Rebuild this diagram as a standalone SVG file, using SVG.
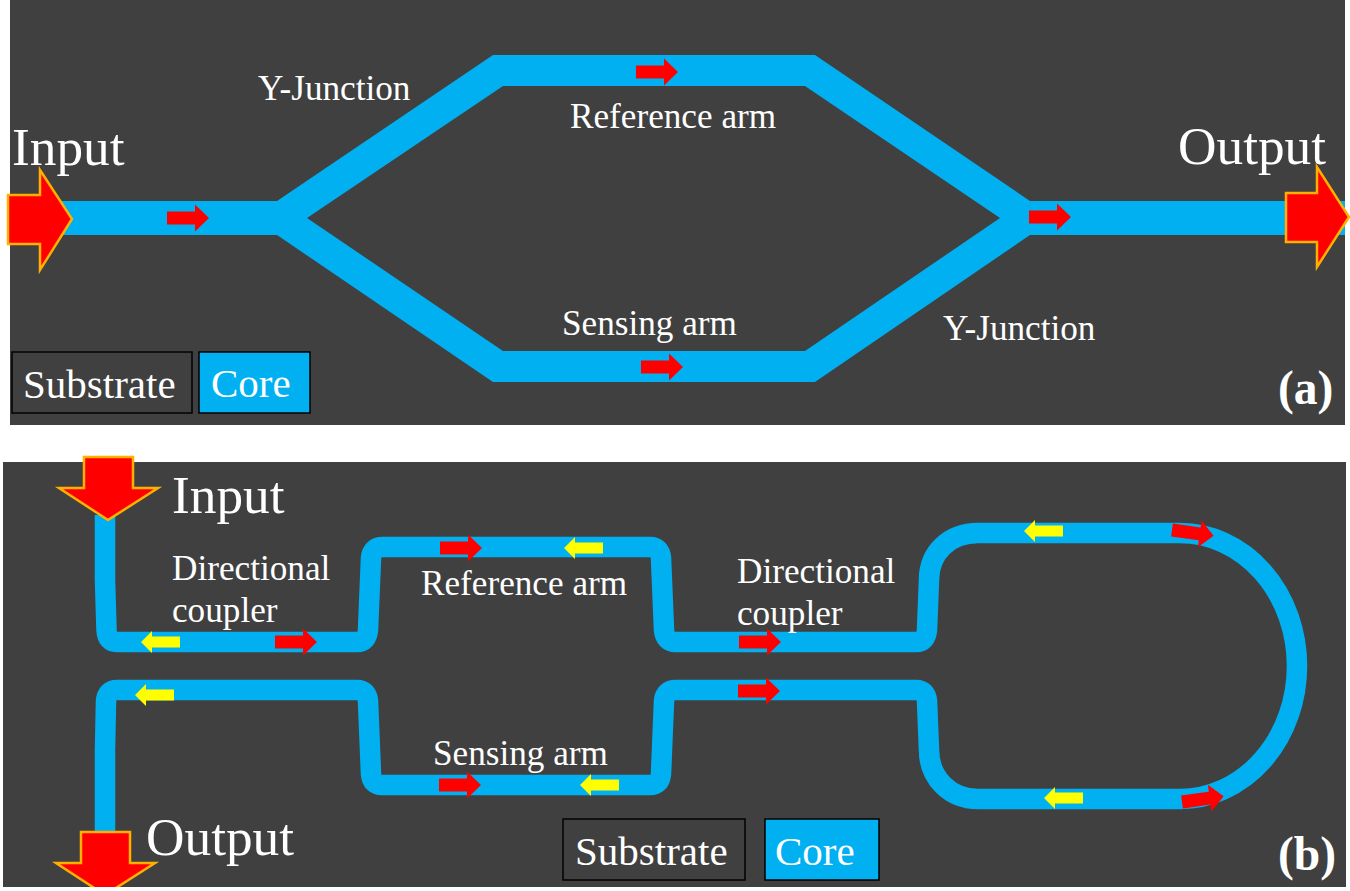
<svg xmlns="http://www.w3.org/2000/svg" xmlns:xlink="http://www.w3.org/1999/xlink" width="1350" height="891" viewBox="0 0 1350 891">
<style>
.panel{fill:#404040}
.core{fill:#00b0f0}
.wg{fill:none;stroke:#00b0f0;stroke-width:20.5;stroke-linejoin:round}
.big{fill:#ff0000;stroke:#ffb000;stroke-width:2.5}
.r{fill:#ff0000}
.y{fill:#ffff00}
.t{font-family:"Liberation Serif","Times New Roman",serif;fill:#fff}
.lg{font-size:53.3px}
.md{font-size:35.2px}
.lb{font-size:41px}
.pl{font-size:47.5px;font-weight:bold}
.box{stroke:#000;stroke-width:1.5}
</style>
<defs>
<polygon id="ra" points="0,-6.5 28,-6.5 28,-13.5 42,0 28,13.5 28,6.5 0,6.5"/>
<polygon id="ya" points="0,-5.5 -28,-5.5 -28,-11 -39,0 -28,11 -28,5.5 0,5.5"/>
<clipPath id="pb"><rect x="0" y="440" width="1350" height="447"/></clipPath>
</defs>
<rect width="1350" height="891" fill="#fff"/>
<rect id="panel-a" class="panel" x="10" y="0" width="1335" height="425"/>
<rect id="panel-b" class="panel" x="3" y="462" width="1343" height="425"/>
<g id="connectors">
<path id="wg-a" class="core" fill-rule="evenodd" d="M60,201H277L493,55H815L1030,201H1345V235H1030L815,382H493L277,235H60ZM307,218L503,86H805L1000,218L805,351H503Z"/>
<path id="wg-b-top" class="wg" d="M105,515V580L106.5,630Q107,642 117,642H357Q367,642 368,630L371,558Q372,547 383,547H650Q660,547 661,558L664,630Q665,642 676,642H916Q926,642 927,630L929,580C929,552 950,533 978,533H1180A117,133 0 0 1 1297,666A117,133 0 0 1 1180,799H978C950,799 929,778 929,750L927,701Q926,690 916,690H676Q665,690 664,701L661,774Q660,785 650,785H382Q372,785 371,774L368,701Q367,690 357,690H117Q107,690 106,701L105,750V835"/>
</g>
<g id="input-a"><polygon class="big" points="8,195 40,195 40,170 72,219 40,270 40,244 8,244"/><text class="t lg" x="12" y="165">Input</text></g>
<g id="output-a"><polygon class="big" points="1286,193 1317,193 1317,167 1349,217 1317,267 1317,242 1286,242"/><text class="t lg" x="1178" y="164">Output</text></g>
<g id="labels-a">
<text class="t md" x="258" y="100">Y-Junction</text>
<text class="t md" x="570" y="128">Reference arm</text>
<text class="t md" x="562" y="335">Sensing arm</text>
<text class="t md" x="943" y="340">Y-Junction</text>
<text class="t pl" x="1278" y="404">(a)</text>
</g>
<g id="legend-a">
<rect class="box" x="12" y="352" width="180" height="61" fill="#404040"/><text class="t lb" x="23" y="398">Substrate</text>
<rect class="box core" x="199" y="352" width="111" height="61"/><text class="t lb" x="211" y="397">Core</text>
</g>
<g id="arrows-a">
<use xlink:href="#ra" href="#ra" class="r" transform="translate(167,218)"/>
<use xlink:href="#ra" href="#ra" class="r" transform="translate(636,72)"/>
<use xlink:href="#ra" href="#ra" class="r" transform="translate(641,367)"/>
<use xlink:href="#ra" href="#ra" class="r" transform="translate(1029,217)"/>
</g>
<g id="input-b"><polygon class="big" points="84,457 133,457 133,488 158,488 108,520 59,488 84,488"/><text class="t lg" x="172" y="513">Input</text></g>
<g id="output-b" clip-path="url(#pb)"><polygon class="big" points="81,832 130,832 130,863 155,863 105,895 56,863 81,863"/><text class="t lg" x="146" y="855">Output</text></g>
<g id="labels-b">
<text class="t md" x="172" y="580">Directional</text>
<text class="t md" x="172" y="622">coupler</text>
<text class="t md" x="421" y="595">Reference arm</text>
<text class="t md" x="737" y="583">Directional</text>
<text class="t md" x="737" y="625">coupler</text>
<text class="t md" x="433" y="765">Sensing arm</text>
<text class="t pl" x="1278" y="870">(b)</text>
</g>
<g id="legend-b">
<rect class="box" x="563" y="819" width="182" height="61" fill="#404040"/><text class="t lb" x="575" y="865">Substrate</text>
<rect class="box core" x="765" y="819" width="114" height="61"/><text class="t lb" x="775" y="865">Core</text>
</g>
<g id="arrows-b">
<use xlink:href="#ra" href="#ra" class="r" transform="translate(275,642)"/>
<use xlink:href="#ra" href="#ra" class="r" transform="translate(440,548)"/>
<use xlink:href="#ra" href="#ra" class="r" transform="translate(739,642)"/>
<use xlink:href="#ra" href="#ra" class="r" transform="translate(738,691)"/>
<use xlink:href="#ra" href="#ra" class="r" transform="translate(439,785)"/>
<use xlink:href="#ra" href="#ra" class="r" transform="translate(1172,530) rotate(8)"/>
<use xlink:href="#ra" href="#ra" class="r" transform="translate(1182,802) rotate(-8)"/>
<use xlink:href="#ya" href="#ya" class="y" transform="translate(180,642)"/>
<use xlink:href="#ya" href="#ya" class="y" transform="translate(174,695)"/>
<use xlink:href="#ya" href="#ya" class="y" transform="translate(603,548)"/>
<use xlink:href="#ya" href="#ya" class="y" transform="translate(619,785)"/>
<use xlink:href="#ya" href="#ya" class="y" transform="translate(1063,531)"/>
<use xlink:href="#ya" href="#ya" class="y" transform="translate(1083,798)"/>
</g>
</svg>
